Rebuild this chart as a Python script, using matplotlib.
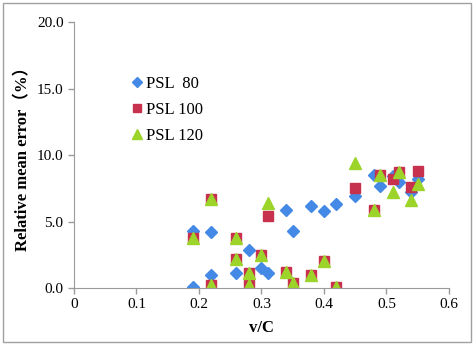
import matplotlib
matplotlib.use("Agg")
import matplotlib.pyplot as plt
from matplotlib.patches import Rectangle

plt.rcParams['font.family'] = ['Liberation Serif', 'Noto Sans CJK SC']

# PSL 80 (diamonds)
x80 = [0.19, 0.19, 0.22, 0.22, 0.26, 0.28, 0.30, 0.31, 0.34, 0.35,
       0.38, 0.40, 0.42, 0.45, 0.48, 0.49, 0.51, 0.52, 0.54, 0.55]
y80 = [0.1, 4.3, 4.2, 1.0, 1.1, 2.9, 1.5, 1.1, 5.9, 4.3,
       6.2, 5.8, 6.3, 6.9, 8.5, 7.7, 8.4, 8.0, 7.2, 8.2]

# PSL 100 (squares)
x100 = [0.19, 0.22, 0.22, 0.26, 0.26, 0.28, 0.28, 0.30, 0.31, 0.34, 0.35,
        0.38, 0.40, 0.42, 0.45, 0.48, 0.49, 0.51, 0.52, 0.54, 0.55]
y100 = [3.8, 6.7, 0.2, 3.8, 2.2, 1.1, 0.2, 2.5, 5.4, 1.2, 0.4,
        1.0, 2.0, 0.1, 7.5, 5.9, 8.5, 8.2, 8.7, 7.6, 8.8]

# PSL 120 (triangles)
x120 = [0.19, 0.22, 0.22, 0.26, 0.26, 0.28, 0.28, 0.30, 0.31, 0.34, 0.35,
        0.38, 0.40, 0.42, 0.45, 0.48, 0.49, 0.51, 0.52, 0.54, 0.55]
y120 = [3.8, 6.7, 0.2, 3.8, 2.2, 1.1, 0.2, 2.5, 6.4, 1.2, 0.4,
        1.0, 2.0, 0.1, 9.4, 5.9, 8.5, 7.2, 8.7, 6.6, 7.8]

xticks = [0, 0.1, 0.2, 0.3, 0.4, 0.5, 0.6]
xlabels = ['0', '0.1', '0.2', '0.3', '0.4', '0.5', '0.6']
yticks = [0, 5, 10, 15, 20]
ylabels = ['0.0', '5.0', '10.0', '15.0', '20.0']

fig = plt.figure(figsize=(4.74, 3.45), dpi=100)
ax = fig.add_axes([0.156, 0.165, 0.791, 0.771])

ax.plot(x80, y80, linestyle='none', marker='D', markersize=6.3,
        color='#4589E6', label='PSL  80')
ax.plot(x100, y100, linestyle='none', marker='s', markersize=7,
        color='#C8314E', label='PSL 100')
ax.plot(x120, y120, linestyle='none', marker='^', markersize=8,
        color='#9CD42A', label='PSL 120')

ax.set_xlim(0, 0.6)
ax.set_ylim(0, 20)
ax.set_xticks(xticks)
ax.set_xticklabels(xlabels)
ax.set_yticks(yticks)
ax.set_yticklabels(ylabels)
ax.tick_params(labelsize=11, color='#9A9A9A', length=4, width=1)

for s in ['top', 'right']:
    ax.spines[s].set_visible(False)
for s in ['left', 'bottom']:
    ax.spines[s].set_color('#9A9A9A')

ax.set_xlabel('v/C', fontsize=12, fontweight='bold', labelpad=6)
ax.set_ylabel('Relative mean error（%）', fontsize=12, fontweight='bold',
              labelpad=4)

leg = ax.legend(loc='upper left', bbox_to_anchor=(0.107, 0.855), frameon=False,
                fontsize=12, handletextpad=0.0, handlelength=1.0,
                labelspacing=0.62, markerscale=0.85)

fig.patches.append(Rectangle((0.006, 0.008), 0.988, 0.984,
                             transform=fig.transFigure, fill=False,
                             edgecolor='#A0A0A0', linewidth=1))

fig.savefig('out.png', dpi=100)
